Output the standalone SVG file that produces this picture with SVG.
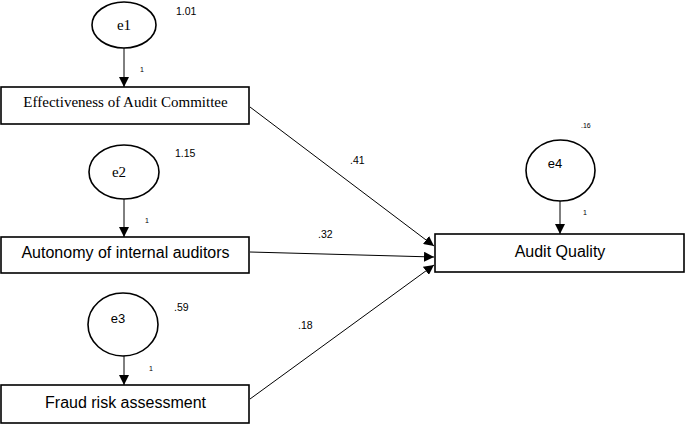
<svg xmlns="http://www.w3.org/2000/svg" width="685" height="424" viewBox="0 0 685 424">
<defs>
<marker id="ah" viewBox="0 0 10 10" refX="10" refY="5" markerWidth="10" markerHeight="10" markerUnits="userSpaceOnUse" orient="auto">
<path d="M0,0 L10,5 L0,10 z" fill="#000"/>
</marker>
</defs>
<style>
.box{fill:#fff;stroke:#000;stroke-width:1.6}
.ell{fill:#fff;stroke:#000;stroke-width:1.6}
.serif{font-family:"Liberation Serif","Times New Roman",serif;fill:#000}
.sans{font-family:"Liberation Sans",Arial,sans-serif;fill:#000}
.conn{stroke:#000;stroke-width:1;fill:none;marker-end:url(#ah)}
.lbl{font-family:"Liberation Sans",Arial,sans-serif;font-size:10.5px;fill:#000}
.one{font-family:"Liberation Sans",Arial,sans-serif;font-size:7px;fill:#000}
</style>
<rect width="685" height="424" fill="#fff"/>
<g id="connectors">
<line class="conn" x1="124" y1="48" x2="124" y2="87"/>
<line class="conn" x1="124" y1="199" x2="124" y2="237"/>
<line class="conn" x1="124" y1="356" x2="124" y2="385"/>
<line class="conn" x1="560" y1="201" x2="560" y2="234"/>
<line class="conn" x1="250" y1="107" x2="434" y2="246"/>
<line class="conn" x1="250" y1="252" x2="434" y2="257"/>
<line class="conn" x1="250" y1="399" x2="434" y2="265"/>
</g>
<g id="e1">
<ellipse class="ell" cx="124" cy="25" rx="32" ry="23"/>
<text class="serif" x="124" y="30" font-size="15" text-anchor="middle">e1</text>
<text class="lbl" x="176" y="15">1.01</text>
<text class="one" x="140" y="72">1</text>
</g>
<g id="e2">
<ellipse class="ell" cx="124" cy="172" rx="35" ry="27"/>
<text class="serif" x="119" y="177" font-size="15" text-anchor="middle">e2</text>
<text class="lbl" x="175" y="157">1.15</text>
<text class="one" x="145" y="223">1</text>
</g>
<g id="e3">
<ellipse class="ell" cx="123" cy="324.5" rx="35" ry="31.5"/>
<text class="sans" x="118" y="323" font-size="13" text-anchor="middle">e3</text>
<text class="lbl" x="174" y="311">.59</text>
<text class="one" x="149" y="371">1</text>
</g>
<g id="e4">
<ellipse class="ell" cx="560.5" cy="170.5" rx="34.5" ry="30.5"/>
<text class="sans" x="555" y="168" font-size="13" text-anchor="middle">e4</text>
<text class="one" x="581" y="128">.16</text>
<text class="one" x="583" y="215">1</text>
</g>
<g id="effectiveness">
<rect class="box" x="1" y="87" width="248" height="37"/>
<text class="serif" x="125.5" y="107" font-size="15" text-anchor="middle">Effectiveness of Audit Committee</text>
</g>
<g id="autonomy">
<rect class="box" x="1" y="237" width="248" height="36"/>
<text class="sans" x="125.5" y="258" font-size="16" text-anchor="middle">Autonomy of internal auditors</text>
</g>
<g id="fraud">
<rect class="box" x="1" y="385" width="248" height="38"/>
<text class="sans" x="125.5" y="408" font-size="16" text-anchor="middle">Fraud risk assessment</text>
</g>
<g id="audit-quality">
<rect class="box" x="435" y="234" width="249" height="38"/>
<text class="sans" x="560" y="257" font-size="16" text-anchor="middle">Audit Quality</text>
</g>
<g id="path-labels">
<text class="lbl" x="350" y="164">.41</text>
<text class="lbl" x="318" y="238">.32</text>
<text class="lbl" x="298" y="329">.18</text>
</g>
</svg>
